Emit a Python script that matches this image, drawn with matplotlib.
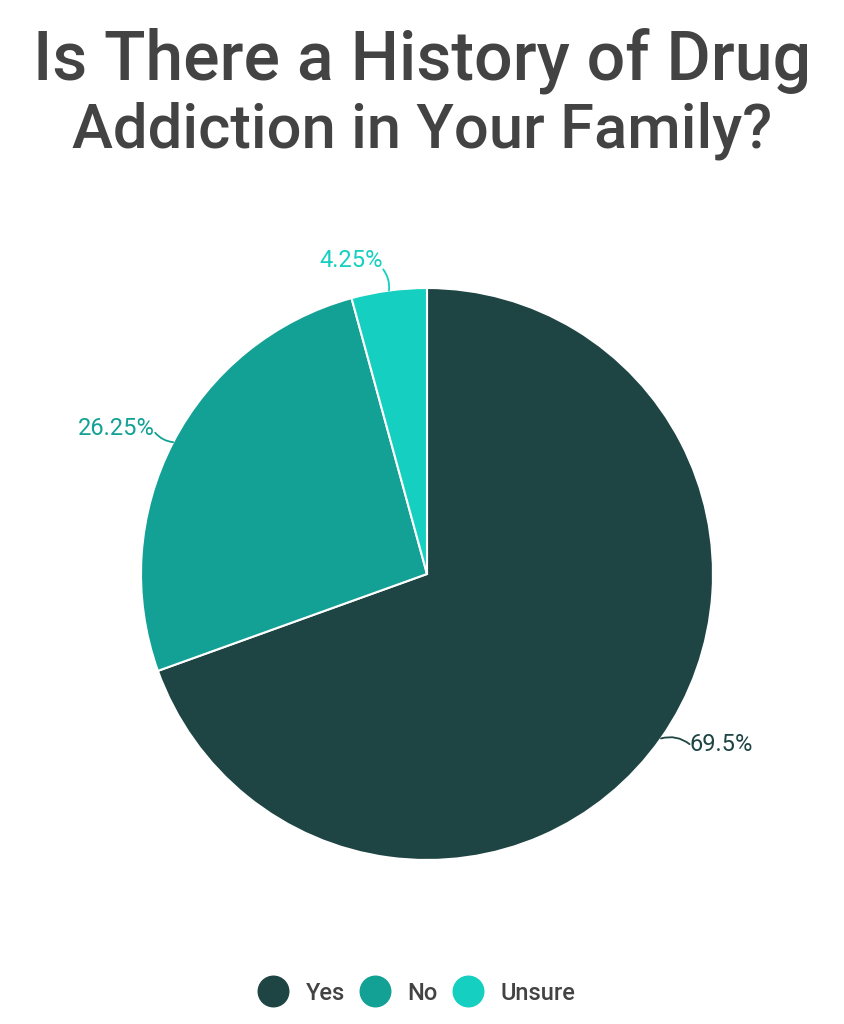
import numpy as np
import matplotlib.pyplot as plt

categories = ['Yes', 'No', 'Unsure']
values = [69.5, 26.25, 4.25]
value_labels = ['69.5%', '26.25%', '4.25%']
colors = ['#1e4544', '#13a195', '#15cfc0']
title_lines = ['Is There a History of Drug', 'Addiction in Your Family?']

plt.rcParams['font.family'] = ['Roboto', 'DejaVu Sans']

W, H = 845, 1024
fig = plt.figure(figsize=(W / 100, H / 100), dpi=100)
for line, base, size in zip(title_lines, [80, 148], [49, 44.3]):
    fig.text(0.5, 1 - base / H, line, ha='center', va='baseline', fontsize=size,
             fontweight='medium', color='#434343')

ax = fig.add_axes([141 / W, 164 / H, 572 / W, 572 / H])
wedges, _ = ax.pie(values, colors=colors, startangle=90, counterclock=False,
                   radius=1.0, wedgeprops=dict(edgecolor='white', linewidth=1.5))
ax.set_xlim(-1, 1)
ax.set_ylim(-1, 1)
ax.set_aspect('equal')
ax.axis('off')

# outside labels with small curved leaders
label_style = [
    dict(offset=(0.10, -0.02), ha='left', va='center', relpos=(0, 0.5), rad=0.25),
    dict(offset=(-0.063, 0.049), ha='right', va='center', relpos=(1, 0.3), rad=0.2),
    dict(offset=(-0.02, 0.066), ha='right', va='bottom', relpos=(1, 0.1), rad=-0.2),
]
for w, lab, col, st in zip(wedges, value_labels, colors, label_style):
    ang = np.deg2rad((w.theta1 + w.theta2) / 2)
    x, y = np.cos(ang), np.sin(ang)
    dx, dy = st['offset']
    ax.annotate(lab, xy=(x, y), xytext=(x + dx, y + dy), ha=st['ha'], va=st['va'],
                fontsize=17, color=col, annotation_clip=False,
                arrowprops=dict(arrowstyle='-', color=col, lw=1.3, relpos=st['relpos'],
                                connectionstyle='arc3,rad=%s' % st['rad'],
                                shrinkA=0, shrinkB=0, patchA=None))

handles = [plt.Line2D([], [], marker='o', linestyle='', markersize=22,
                      markerfacecolor=c, markeredgecolor=c) for c in colors]
fig.legend(handles, categories, loc='center', bbox_to_anchor=(0.495, 1 - 993 / H),
           ncol=3, frameon=False, handlelength=1.0, handletextpad=0.9,
           columnspacing=0.75, labelcolor='#434343',
           prop=dict(family='Roboto', weight='medium', size=17))

fig.savefig('out.png', dpi=100, facecolor='white')
